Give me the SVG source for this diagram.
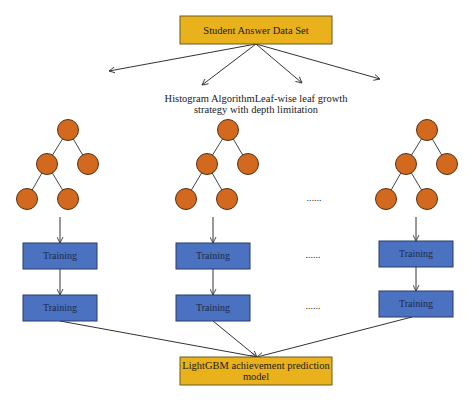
<svg xmlns="http://www.w3.org/2000/svg" width="474" height="402" viewBox="0 0 474 402">
<defs>
<marker id="ah" viewBox="0 0 8 8" refX="7" refY="4" markerWidth="7" markerHeight="7" orient="auto" markerUnits="userSpaceOnUse">
<path d="M0,0.5 L7,4 L0,7.5" fill="none" stroke="#333" stroke-width="1"/>
</marker>
<style>
.gold{fill:#e9b21d;stroke:#6b5a1e;stroke-width:1}
.blue{fill:#4a72c1;stroke:#2a3a66;stroke-width:1}
.leaf{fill:#d2691e;stroke:#5a3010;stroke-width:1}
.edge{stroke:#444;stroke-width:1;fill:none}
.arr{stroke:#333;stroke-width:1;fill:none;marker-end:url(#ah)}
text{font-family:"Liberation Serif","DejaVu Serif",serif;text-anchor:middle}
.lbl{font-size:10.5px;fill:#1a1a1a}
.tr{font-size:10px;fill:#1c2a4a}
.dots{font-size:10px;fill:#333}
</style>
</defs>
<rect width="474" height="402" fill="#ffffff"/>
<g id="connectors">
<line class="arr" x1="256" y1="44" x2="109" y2="71"/>
<line class="arr" x1="256" y1="44" x2="202" y2="85"/>
<line class="arr" x1="256" y1="44" x2="302" y2="83"/>
<line class="arr" x1="256" y1="44" x2="380" y2="79"/>
<line class="arr" x1="60" y1="217" x2="60" y2="243"/>
<line class="arr" x1="213" y1="217" x2="213" y2="243"/>
<line class="arr" x1="416" y1="217" x2="416" y2="241"/>
<line class="arr" x1="60" y1="269" x2="60" y2="295"/>
<line class="arr" x1="213" y1="269" x2="213" y2="295"/>
<line class="arr" x1="416" y1="267" x2="416" y2="291"/>
<line class="arr" x1="60" y1="321" x2="257" y2="357"/>
<line class="arr" x1="213" y1="321" x2="257" y2="357"/>
<line class="arr" x1="412" y1="317" x2="257" y2="357"/>
</g>
<g id="n-dataset">
<rect class="gold" x="180" y="16" width="152" height="28"/>
<text class="lbl" x="256" y="34">Student Answer Data Set</text>
</g>
<g id="n-histogram">
<text class="lbl" x="256" y="102">Histogram AlgorithmLeaf-wise leaf growth</text>
<text class="lbl" x="256" y="113">strategy with depth limitation</text>
</g>
<g id="tree1">
<path class="edge" d="M68,130 L47,164 M68,130 L88,164 M47,164 L27,199 M47,164 L68,199"/>
<circle class="leaf" cx="68" cy="130" r="10.5"/>
<circle class="leaf" cx="47" cy="164" r="10.5"/>
<circle class="leaf" cx="88" cy="164" r="10.5"/>
<circle class="leaf" cx="27" cy="199" r="10.5"/>
<circle class="leaf" cx="68" cy="199" r="10.5"/>
</g>
<g id="tree2">
<path class="edge" d="M228,130 L207,164 M228,130 L248,164 M207,164 L186,199 M207,164 L227,199"/>
<circle class="leaf" cx="228" cy="130" r="10.5"/>
<circle class="leaf" cx="207" cy="164" r="10.5"/>
<circle class="leaf" cx="248" cy="164" r="10.5"/>
<circle class="leaf" cx="186" cy="199" r="10.5"/>
<circle class="leaf" cx="227" cy="199" r="10.5"/>
</g>
<g id="tree3">
<path class="edge" d="M427,130 L406,164 M427,130 L447,164 M406,164 L386,199 M406,164 L427,199"/>
<circle class="leaf" cx="427" cy="130" r="10.5"/>
<circle class="leaf" cx="406" cy="164" r="10.5"/>
<circle class="leaf" cx="447" cy="164" r="10.5"/>
<circle class="leaf" cx="386" cy="199" r="10.5"/>
<circle class="leaf" cx="427" cy="199" r="10.5"/>
</g>
<g id="dots">
<text class="dots" x="314" y="201">......</text>
<text class="dots" x="313" y="258">......</text>
<text class="dots" x="313" y="309">......</text>
</g>
<g id="train1a"><rect class="blue" x="23" y="243" width="74" height="26"/><text class="tr" x="60" y="259">Training</text></g>
<g id="train2a"><rect class="blue" x="176" y="243" width="74" height="26"/><text class="tr" x="213" y="259">Training</text></g>
<g id="train3a"><rect class="blue" x="379" y="241" width="74" height="26"/><text class="tr" x="416" y="257">Training</text></g>
<g id="train1b"><rect class="blue" x="23" y="295" width="74" height="26"/><text class="tr" x="60" y="311">Training</text></g>
<g id="train2b"><rect class="blue" x="176" y="295" width="74" height="26"/><text class="tr" x="213" y="311">Training</text></g>
<g id="train3b"><rect class="blue" x="379" y="291" width="74" height="26"/><text class="tr" x="416" y="307">Training</text></g>
<g id="n-model">
<rect class="gold" x="180" y="357" width="152" height="28"/>
<text class="lbl" x="256" y="369">LightGBM achievement prediction</text>
<text class="lbl" x="256" y="380">model</text>
</g>
</svg>
